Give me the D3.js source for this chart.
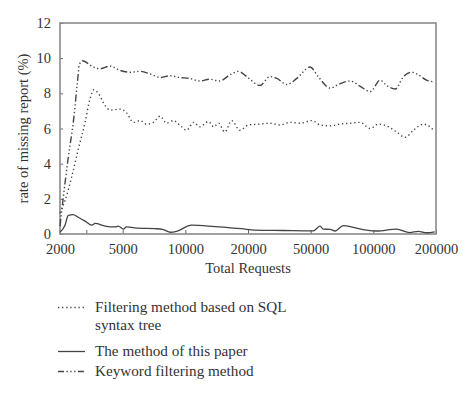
<!DOCTYPE html>
<html>
<head>
<meta charset="utf-8">
<script src="https://cdn.jsdelivr.net/npm/d3@7"></script>
<style>
  body { margin: 0; background: #fff; }
  svg { display: block; font-family: "Liberation Serif", "DejaVu Serif", serif; }
</style>
</head>
<body>
<div id="chart"></div>
<script>
// Rate of missing report vs total requests (three filtering methods)

const xTickLabels = ["2000", "5000", "10000", "20000", "50000", "100000", "200000"];
const yTicks = [0, 2, 4, 6, 8, 10, 12];

// positions are in tick-index units (0 = 2000 ... 6 = 200000)
const sqlPos = [0, 0.08, 0.19, 0.29, 0.40, 0.48, 0.54, 0.61, 0.72, 0.80, 0.96, 1.06, 1.17, 1.28, 1.38, 1.49, 1.60, 1.70, 1.81, 1.94, 2.02, 2.13, 2.23, 2.37, 2.45, 2.53, 2.63, 2.74, 2.87, 3.01, 3.19, 3.35, 3.51, 3.67, 3.83, 4.02, 4.15, 4.31, 4.47, 4.63, 4.79, 4.95, 5.08, 5.24, 5.37, 5.51, 5.64, 5.80, 5.98];
const sqlVal = [1.2, 1.9, 3.3, 4.8, 6.35, 7.7, 8.2, 8.0, 7.3, 7.05, 7.1, 6.9, 6.35, 6.45, 6.25, 6.35, 6.7, 6.3, 6.45, 6.1, 5.9, 6.35, 6.1, 6.4, 6.1, 6.3, 5.8, 6.45, 5.9, 6.2, 6.25, 6.3, 6.2, 6.35, 6.3, 6.45, 6.2, 6.15, 6.25, 6.3, 6.35, 6.0, 6.25, 6.1, 5.8, 5.5, 5.9, 6.25, 5.85];

const paperPos = [0, 0.08, 0.13, 0.21, 0.29, 0.40, 0.51, 0.56, 0.72, 0.88, 0.93, 1.01, 1.06, 1.25, 1.52, 1.65, 1.76, 1.86, 2.10, 2.47, 2.90, 3.11, 3.56, 4.04, 4.15, 4.20, 4.31, 4.39, 4.52, 4.68, 4.89, 5.05, 5.37, 5.58, 5.72, 5.85, 5.98];
const paperVal = [0.1, 0.5, 1.05, 1.1, 0.95, 0.73, 0.5, 0.6, 0.45, 0.4, 0.45, 0.28, 0.4, 0.33, 0.3, 0.25, 0.1, 0.15, 0.5, 0.42, 0.3, 0.22, 0.2, 0.18, 0.45, 0.28, 0.26, 0.17, 0.48, 0.38, 0.22, 0.17, 0.28, 0.08, 0.15, 0.07, 0.12];

const keyPos = [0, 0.05, 0.13, 0.22, 0.28, 0.31, 0.36, 0.53, 0.64, 0.80, 0.96, 1.12, 1.28, 1.44, 1.60, 1.76, 1.91, 2.07, 2.23, 2.39, 2.55, 2.71, 2.85, 2.98, 3.19, 3.35, 3.46, 3.62, 3.78, 3.99, 4.12, 4.31, 4.47, 4.63, 4.79, 4.95, 5.11, 5.21, 5.35, 5.48, 5.61, 5.72, 5.85, 5.98];
const keyVal = [0.45, 2.0, 4.3, 6.6, 8.7, 9.65, 9.85, 9.5, 9.4, 9.55, 9.3, 9.2, 9.25, 9.1, 8.9, 9.0, 8.9, 8.85, 8.7, 8.8, 8.7, 9.05, 9.25, 8.95, 8.45, 8.95, 8.85, 8.5, 8.85, 9.5, 8.95, 8.3, 8.55, 8.7, 8.4, 8.1, 8.75, 8.45, 8.25, 8.95, 9.2, 9.05, 8.75, 8.65];

const width = 474,
    height = 396,
    margin = ({top: 23, right: 38, bottom: 162, left: 60});

const ink = "#444";
const dashes = ["1.3,2.8", null, "7,2.5,1.3,2.5,1.3,2.5,1.3,2.5"];

let svg = d3.select("#chart")
    .append("svg")
    .attr("width", width)
    .attr("height", height)
    .attr("viewBox", [0, 0, width, height]);

const x = d3.scaleLinear()
    .domain([0, xTickLabels.length - 1])
    .range([margin.left, width - margin.right]);

const y = d3.scaleLinear()
    .domain([0, 12])
    .range([height - margin.bottom, margin.top]);

// x axis: inward ticks, plus the odd extra tick after 2000
const xAxis = g => g
    .attr("transform", `translate(0,${height - margin.bottom})`)
    .call(d3.axisBottom(x)
        .tickValues([0, 0.42, 1, 2, 3, 4, 5, 6])
        .tickFormat(d => Number.isInteger(d) ? xTickLabels[d] : "")
        .tickSizeInner(-4)
        .tickSizeOuter(0)
        .tickPadding(10))
    .call(g => g.select(".domain").remove());

const yAxis = g => g
    .attr("transform", `translate(${margin.left},0)`)
    .call(d3.axisLeft(y)
        .tickValues(yTicks)
        .tickSizeInner(-3)
        .tickSizeOuter(0)
        .tickPadding(9))
    .call(g => g.select(".domain").remove());

svg.append("g").call(xAxis);
svg.append("g").call(yAxis);

svg.selectAll(".tick line").attr("stroke", "#666");
svg.selectAll(".tick text")
    .attr("fill", "#333")
    .style("font-size", "14.5px")
    .style("font-family", "'Liberation Serif', serif");

// plot frame
svg.append("rect")
    .attr("x", x(0))
    .attr("y", y(12))
    .attr("width", x(6) - x(0))
    .attr("height", y(0) - y(12))
    .attr("fill", "none")
    .attr("stroke", "#8a8a8a")
    .attr("stroke-width", 1.6);

// lines
const series = [
    {pos: sqlPos, val: sqlVal},
    {pos: paperPos, val: paperVal},
    {pos: keyPos, val: keyVal}
];

const line = d3.line()
    .x(d => x(d[0]))
    .y(d => y(d[1]))
    .curve(d3.curveMonotoneX);

series.forEach((s, i) => {
    svg.append("path")
        .datum(d3.zip(s.pos, s.val))
        .attr("fill", "none")
        .attr("stroke", ink)
        .attr("stroke-width", i === 1 ? 1.3 : 1.4)
        .attr("stroke-dasharray", dashes[i])
        .attr("d", line);
});

// axis titles
svg.append("text")
    .attr("x", (x(0) + x(6)) / 2)
    .attr("y", 273)
    .attr("text-anchor", "middle")
    .attr("fill", "#333")
    .style("font-size", "14.5px")
    .text("Total Requests");

svg.append("text")
    .attr("transform", `translate(28,${(y(0) + y(12)) / 2}) rotate(-90)`)
    .attr("text-anchor", "middle")
    .attr("fill", "#333")
    .style("font-size", "14.5px")
    .text("rate of missing report (%)");

// legend
const legendRows = [
    {lines: ["Filtering method based on SQL", "syntax tree"], y: 312},
    {lines: ["The method of this paper"], y: 356},
    {lines: ["Keyword filtering method"], y: 376}
];

legendRows.forEach((r, i) => {
    svg.append("line")
        .attr("x1", 58).attr("x2", 85)
        .attr("y1", r.y - 4.5).attr("y2", r.y - 4.5)
        .attr("stroke", ink)
        .attr("stroke-width", 1.3)
        .attr("stroke-dasharray", i === 2 ? "6,2.5,1.3,2.5,1.3,2.5,1.3,2.5" : dashes[i]);
    r.lines.forEach((t, k) => {
        svg.append("text")
            .attr("x", 95)
            .attr("y", r.y + k * 18)
            .attr("fill", "#333")
            .style("font-size", "15.2px")
            .text(t);
    });
});
</script>
</body>
</html>
